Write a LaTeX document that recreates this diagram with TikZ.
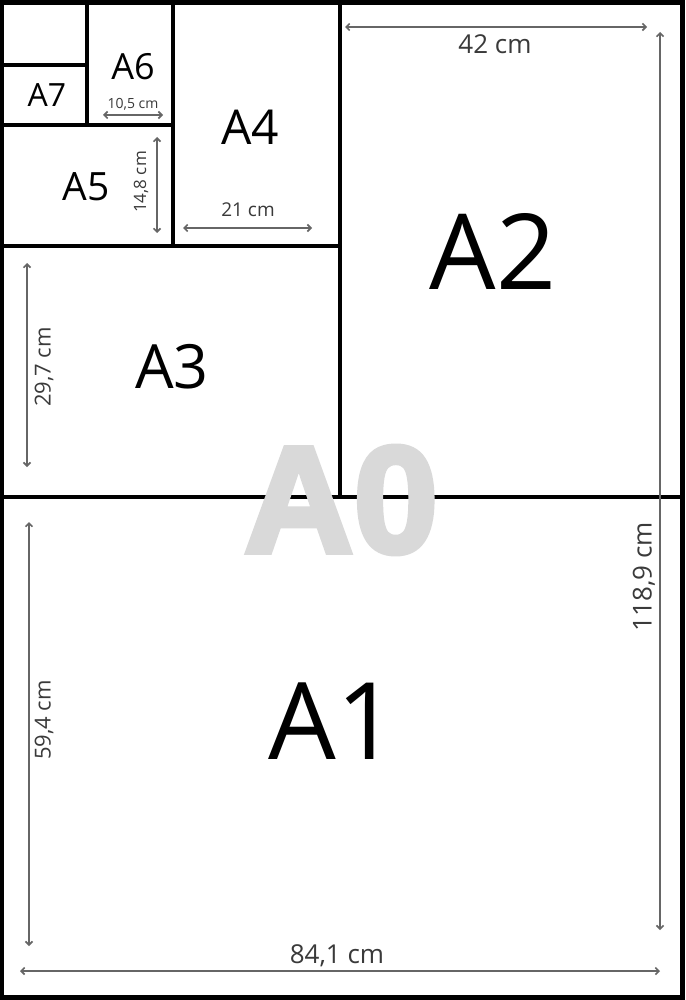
\documentclass[tikz,border=0pt]{standalone}
\usepackage{fontspec}
\setmainfont{Open Sans}
\newfontfamily\heavyfont{Liberation Sans}[BoldFeatures={FakeBold=3.5}]
\usetikzlibrary{arrows.meta}

\definecolor{dimgray}{HTML}{666666}
\definecolor{dimtext}{HTML}{3A3A3A}
\definecolor{bigzero}{HTML}{D9D9D9}

\newcommand{\fsz}[1]{\fontsize{#1}{#1}\selectfont}

\tikzset{
	cut/.style={line width=4pt, black},
	sheet/.style={inner sep=0pt, text=black},
	measure/.style={line width=1.6pt, dimgray, {Straight Barb[length=3.5pt,width=7pt]}-{Straight Barb[length=3.5pt,width=7pt]}},
	measurelabel/.style={inner sep=0pt, text=dimtext}
}

\begin{document}
\begin{tikzpicture}[x=1pt,y=-1pt]
	\useasboundingbox (0,0) rectangle (685,1000);
	\fill[white] (0,0) rectangle (685,1000);

	% Frame
	\draw[line width=5pt] (1,2.5) rectangle (682.5,997.5);

	% Cuts
	\draw[cut] (0,497) -- (685,497);
	\draw[cut] (340,0) -- (340,497);
	\draw[cut] (0,246) -- (340,246);
	\draw[cut] (173,0) -- (173,246);
	\draw[cut] (0,125) -- (173,125);
	\draw[cut] (87,0) -- (87,125);
	\draw[cut] (0,65) -- (87,65);

	% Whole sheet
	\node[inner sep=0pt, text=bigzero, font=\heavyfont\bfseries\fsz{152}] (a0) at (341,500) {A0};

	% Sheets
	\node[sheet, font=\fsz{107}] (a1) at (333,721) {A1};
	\node[sheet, font=\fsz{105}] (a2) at (493,251) {A2};
	\node[sheet, font=\fsz{61}] (a3) at (172,367) {A3};
	\node[sheet, font=\fsz{48}] (a4) at (250,127) {A4};
	\node[sheet, font=\fsz{39}] (a5) at (86,187) {A5};
	\node[sheet, font=\fsz{36}] (a6) at (133,67) {A6};
	\node[sheet, font=\fsz{32}] (a7) at (47,95) {A7};

	% Measures
	\draw[measure] (103,115) -- (163,115);
	\node[measurelabel, font=\fsz{14}] (w6) at (133,104) {10,5 cm};

	\draw[measure] (157,137) -- (157,233);
	\node[measurelabel, font=\fsz{17}, rotate=90] (h5) at (141,182) {14,8 cm};

	\draw[measure] (183,228) -- (312,228);
	\node[measurelabel, font=\fsz{19}] (w4) at (248,210) {21 cm};

	\draw[measure] (345,27) -- (647,27);
	\node[measurelabel, font=\fsz{26}] (w2) at (495,44) {42 cm};

	\draw[measure] (27,263) -- (27,467);
	\node[measurelabel, font=\fsz{22}, rotate=90] (h3) at (44,367) {29,7 cm};

	\draw[measure] (29,522) -- (29,946);
	\node[measurelabel, font=\fsz{22}, rotate=90] (h1) at (44,720) {59,4 cm};

	\draw[measure] (660,32) -- (660,930);
	\node[measurelabel, font=\fsz{26}, rotate=90] (h0) at (644,577) {118,9 cm};

	\draw[measure] (20,971) -- (660,971);
	\node[measurelabel, font=\fsz{26}] (w0) at (337,956) {84,1 cm};
\end{tikzpicture}
\end{document}
